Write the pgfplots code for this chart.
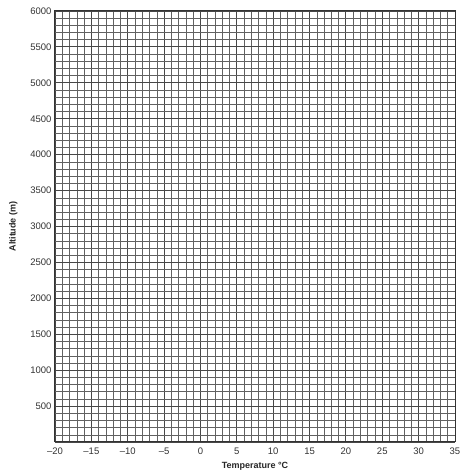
\documentclass[border=0pt]{standalone}
\usepackage{fontspec}
\setmainfont{Liberation Sans}
\usepackage{pgfplots}
\pgfplotsset{compat=1.18}
\begin{document}
\begin{tikzpicture}
\path[use as bounding box] (-55pt,-34pt) rectangle (419pt,442pt);
\begin{axis}[
  at={(0pt,0pt)}, anchor=south west,
  scale only axis,
  width=400pt, height=431pt,
  xmin=-20, xmax=35, ymin=0, ymax=6000,
  xtick={-20,-15,...,35},
  xticklabels={\textendash20,\textendash15,\textendash10,\textendash5,0,5,10,15,20,25,30,35},
  ytick={0,500,...,6000},
  yticklabels={,500,1000,1500,2000,2500,3000,3500,4000,4500,5000,5500,6000},
  minor x tick num=4,
  minor y tick num=4,
  grid=both,
  major grid style={line width=0.9pt, color=black!72},
  minor grid style={line width=0.5pt, color=black!62},
  axis line style={line width=1pt, color=black!80},
  tick style={draw=none},
  /pgf/number format/assume math mode=true,
  /pgf/number format/set thousands separator={},
  xticklabel style={font=\fontsize{9.5}{11}\selectfont, color=black!80, yshift=-2pt},
  yticklabel style={font=\fontsize{9.5}{11}\selectfont, color=black!80},
  xlabel={\textbf{Temperature °C}},
  ylabel={\textbf{Altitude (m)}},
  xlabel style={font=\fontsize{9}{11}\selectfont, color=black!85, yshift=-1pt},
  ylabel style={font=\fontsize{9}{11}\selectfont, color=black!85, yshift=6pt},
]
\addplot[draw=none] coordinates {(-20,0) (35,6000)};
\end{axis}
\end{tikzpicture}
\end{document}
